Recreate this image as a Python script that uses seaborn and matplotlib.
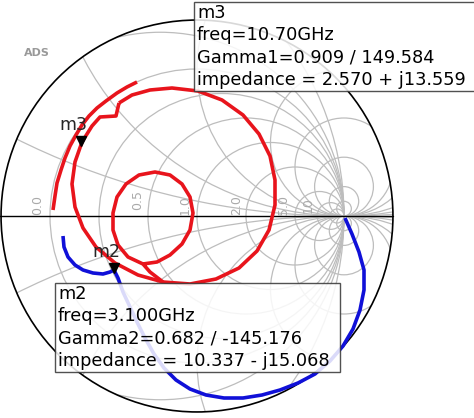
import numpy as np
import pandas as pd
import matplotlib
matplotlib.use("Agg")
import matplotlib.pyplot as plt
import seaborn as sns
from matplotlib.patches import Circle

sns.set_style("white")
plt.rcParams['font.family'] = ['DejaVu Sans']

# chart readings (pixel positions on the chart image, converted to Gamma below)
CX, CY, UNIT = 197.0, 216.0, 147.0
def g(pts):
    a = np.array(pts, float)
    return (a[:, 0] - CX) / UNIT, (CY - a[:, 1]) / UNIT

red_outer = [(137,82),(127,87),(117,93),(106,101),(97,108),(89,116),(82,125),(76,135),(70,146),(65,158),
             (61,170),(57,183),(55,196),(53,210)]
red_big = [(119,103),(116,116),(100,117),(92,126),(82,142),(75,162),(72,184),(75,207),(83,228),(96,247),
           (115,263),(138,275),(163,282),(190,284),(216,279),(239,268),(257,251),(269,230),(275,205),
           (275,180),(270,156),(259,134),(243,115),(222,100),(198,91),(172,88),(150,90),(132,95),(119,103)]
red_inner = [(163,282),(150,272),(143,264),(128,257),(118,245),(113,230),(113,213),(117,197),(126,184),
             (139,175),(155,172),(170,175),(182,184),(190,197),(193,213),(190,230),(182,244),(170,255),
             (157,262),(143,264)]
blue = [(63,236),(64,247),(68,257),(75,265),(83,270),(93,273),(103,274),(110,272),(114,270),(118,278),
        (123,292),(130,307),(137,322),(145,338),(154,354),(164,368),(176,380),(190,389),(206,395),(224,398),
        (243,398),(262,395),(280,390),(298,383),(315,374),(330,361),(343,346),(353,329),(360,310),(364,290),
        (364,270),(359,252),(352,234),(345,218)]
m3_pt = (81,141)
m2_pt = (114,268)
r_values = [0, 0.2, 0.5, 1, 2, 5, 10, 20]
x_values = [0.2, 0.5, 1, 2, 3, 5, 10, 20]
r_labels = [("0.0",38,205),("0.5",138,200),("1.0",185,205),("2.0",237,205),("5.0",283,205),("10",308,205)]
m3_lines = ["m3", "freq=10.70GHz", "Gamma1=0.909 / 149.584", "impedance = 2.570 + j13.559"]
m2_lines = ["m2", "freq=3.100GHz", "Gamma2=0.682 / -145.176", "impedance = 10.337 - j15.068"]

fig = plt.figure(figsize=(4.74, 4.18), dpi=100)
ax = fig.add_axes([0, 0, 1, 1])
ax.set_xlim((0 - CX) / UNIT, (474 - CX) / UNIT)
ax.set_ylim((CY - 418) / UNIT, (CY - 0) / UNIT)
ax.axis("off")

R = 1.333
clip = Circle((0, 0), R, transform=ax.transData)
gc = "#bdbdbd"
for r in r_values:
    c = Circle((r / (1 + r), 0), 1 / (1 + r), fill=False, color=gc, lw=0.9)
    ax.add_patch(c); c.set_clip_path(clip)
for xv in x_values:
    for s in (1, -1):
        c = Circle((1, s / xv), 1 / xv, fill=False, color=gc, lw=0.9)
        ax.add_patch(c); c.set_clip_path(clip)
for r in [-0.2, -0.5]:
    c = Circle((r / (1 + r), 0), abs(1 / (1 + r)), fill=False, color=gc, lw=0.9)
    ax.add_patch(c); c.set_clip_path(clip)
for t, px, py in r_labels:
    ax.text((px - CX) / UNIT, (CY - py) / UNIT, t, color="#aaaaaa", fontsize=9, rotation=90, ha="center", va="center")
ax.text((37 - CX) / UNIT, (CY - 53) / UNIT, "ADS", color="#999999", fontsize=8, fontweight="bold", ha="center", va="center")

ax.add_patch(Circle((0, 0), R, fill=False, color="black", lw=1.2))
ax.plot([(0 - CX) / UNIT, R], [0, 0], color="black", lw=1.0)

for pts, col in [(red_outer, "#e8141c"), (red_big, "#e8141c"), (red_inner, "#e8141c"), (blue, "#1010d8")]:
    xs, ys = g(pts)
    df = pd.DataFrame({"re": xs, "im": ys})
    sns.lineplot(data=df, x="re", y="im", sort=False, estimator=None, color=col, lw=2.6, ax=ax,
                 solid_joinstyle="round", solid_capstyle="butt")
ax.set_xlabel(""); ax.set_ylabel("")

for (px, py), lab in [(m3_pt, "m3"), (m2_pt, "m2")]:
    x0, y0 = (px - CX) / UNIT, (CY - py) / UNIT
    ax.plot([x0], [y0], marker="v", color="black", ms=7)
    ax.text(x0 - 0.05, y0 + 0.05, lab, fontsize=12.5, ha="center", va="bottom")

def box(lines, x0, y0, x1, y1):
    ax.add_patch(plt.Rectangle(((x0 - CX) / UNIT, (CY - y1) / UNIT), (x1 - x0) / UNIT, (y1 - y0) / UNIT,
                               facecolor="white", edgecolor="#333333", lw=1.0, alpha=0.85, zorder=5))
    step = (y1 - y0) / 4
    for i, t in enumerate(lines):
        ax.text((x0 + 3 - CX) / UNIT, (CY - (y0 + step * (i + 0.5))) / UNIT, t, fontsize=12.8,
                color="black", va="center", zorder=6)

box(m3_lines, 194, 2, 476, 91)
box(m2_lines, 55, 283, 340, 372)

fig.savefig("out.png", dpi=100)
